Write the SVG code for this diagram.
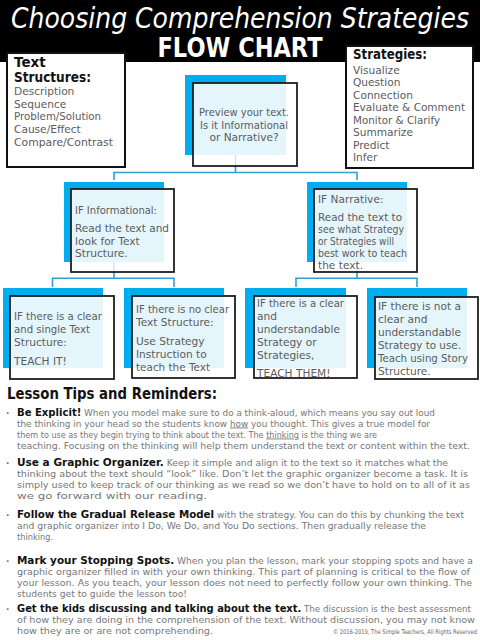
<svg xmlns="http://www.w3.org/2000/svg" width="480" height="640" viewBox="0 0 480 640">
<style>
.blue{fill:#00aeef}
.lb{fill:#e4f5fc}
.bx{fill:none;stroke:#1e1e1e;stroke-width:1.8}
.t{font-family:"DejaVu Sans","Liberation Sans",sans-serif;font-size:10.6px;fill:#5c5c5c}
.h{font-family:"DejaVu Sans","Liberation Sans",sans-serif;font-weight:700;font-size:13.5px;fill:#111}
.p{font-family:"DejaVu Sans","Liberation Sans",sans-serif;font-size:8.8px;fill:#777}
.pb{font-weight:700;font-size:10px;fill:#111}
.con{fill:none;stroke:#2fa0d6;stroke-width:1.6}
.faint{fill:none;stroke:#bfe4f6;stroke-width:1.2}
</style>
<rect width="480" height="640" fill="#fff"/>
<g id="header">
<rect x="0" y="0" width="480" height="62" fill="#000"/>
<text x="240" y="28" text-anchor="middle" textLength="458" lengthAdjust="spacingAndGlyphs" font-family="DejaVu Sans,sans-serif" font-style="italic" font-size="28" fill="#fff">Choosing Comprehension Strategies</text>
<text x="240" y="57" text-anchor="middle" textLength="165" lengthAdjust="spacingAndGlyphs" font-family="DejaVu Sans,sans-serif" font-weight="700" font-size="26" fill="#fff">FLOW CHART</text>
</g>
<g id="text-structures">
<rect x="7" y="53" width="118" height="114" fill="#fff" stroke="#111" stroke-width="2"/>
<text class="h" x="14" y="67">Text</text>
<text class="h" x="14" y="82" textLength="77" lengthAdjust="spacingAndGlyphs">Structures:</text>
<text class="t" x="14" y="95">Description</text>
<text class="t" x="14" y="107.7">Sequence</text>
<text class="t" x="14" y="120.4" textLength="87" lengthAdjust="spacingAndGlyphs">Problem/Solution</text>
<text class="t" x="14" y="133">Cause/Effect</text>
<text class="t" x="14" y="145.8" textLength="99" lengthAdjust="spacingAndGlyphs">Compare/Contrast</text>
</g>
<g id="strategies">
<rect x="346" y="46" width="127" height="122" fill="#fff" stroke="#111" stroke-width="2"/>
<text class="h" x="353" y="59" textLength="74" lengthAdjust="spacingAndGlyphs">Strategies:</text>
<text class="t" x="353" y="73.5">Visualize</text>
<text class="t" x="353" y="86">Question</text>
<text class="t" x="353" y="98.5">Connection</text>
<text class="t" x="353" y="111" textLength="112" lengthAdjust="spacingAndGlyphs">Evaluate &amp; Comment</text>
<text class="t" x="353" y="123.5" textLength="87" lengthAdjust="spacingAndGlyphs">Monitor &amp; Clarify</text>
<text class="t" x="353" y="136">Summarize</text>
<text class="t" x="353" y="148.5">Predict</text>
<text class="t" x="353" y="161">Infer</text>
</g>
<g id="connectors">
<path class="faint" d="M235.5 155V166 M114 262V272 M357 262V272"/>
<path class="con" d="M235.5 166V172.5 M114 180V172.5H357V180"/>
<path class="con" d="M114 272V278.3 M52.5 287V278.3H174V287"/>
<path class="con" d="M357 272V278.3 M296 287V278.3H417V287"/>
</g>
<g id="preview">
<rect class="blue" x="185" y="75" width="101" height="80"/>
<rect class="lb" x="193" y="83" width="93" height="72"/>
<rect class="bx" x="193" y="83" width="104" height="83"/>
<text class="t" x="244" y="115.5" text-anchor="middle" textLength="90" lengthAdjust="spacingAndGlyphs">Preview your text.</text>
<text class="t" x="244" y="128.5" text-anchor="middle" textLength="88" lengthAdjust="spacingAndGlyphs">Is it Informational</text>
<text class="t" x="244" y="141" text-anchor="middle">or Narrative?</text>
</g>
<g id="informational">
<rect class="blue" x="64" y="182" width="100" height="80"/>
<rect class="lb" x="71" y="189" width="93" height="73"/>
<rect class="bx" x="71" y="189" width="103" height="83"/>
<text class="t" x="75" y="214" textLength="82" lengthAdjust="spacingAndGlyphs">IF Informational:</text>
<text class="t" x="75" y="231.5" textLength="94" lengthAdjust="spacingAndGlyphs">Read the text and</text>
<text class="t" x="75" y="244.5">look for Text</text>
<text class="t" x="75" y="257">Structure.</text>
</g>
<g id="narrative">
<rect class="blue" x="307" y="182" width="100" height="80"/>
<rect class="lb" x="314" y="189" width="93" height="73"/>
<rect class="bx" x="314" y="189" width="103" height="83"/>
<text class="t" x="318" y="203">IF Narrative:</text>
<text class="t" x="318" y="220.5" textLength="84" lengthAdjust="spacingAndGlyphs">Read the text to</text>
<text class="t" x="318" y="232.5" textLength="86" lengthAdjust="spacingAndGlyphs">see what Strategy</text>
<text class="t" x="318" y="244.5" textLength="76" lengthAdjust="spacingAndGlyphs">or Strategies will</text>
<text class="t" x="318" y="256.5" textLength="89" lengthAdjust="spacingAndGlyphs">best work to teach</text>
<text class="t" x="318" y="268.5">the text.</text>
</g>
<g id="clear-structure">
<rect class="blue" x="3" y="288" width="100" height="80"/>
<rect class="lb" x="10" y="296" width="93" height="72"/>
<rect class="bx" x="10" y="296" width="104" height="83"/>
<text class="t" x="14" y="320" textLength="88" lengthAdjust="spacingAndGlyphs">IF there is a clear</text>
<text class="t" x="14" y="333" textLength="76" lengthAdjust="spacingAndGlyphs">and single Text</text>
<text class="t" x="14" y="346">Structure:</text>
<text class="t" x="14" y="364.5">TEACH IT!</text>
</g>
<g id="no-clear-structure">
<rect class="blue" x="124" y="288" width="100" height="80"/>
<rect class="lb" x="132" y="296" width="92" height="72"/>
<rect class="bx" x="132" y="296" width="103" height="82"/>
<text class="t" x="136" y="313" textLength="93" lengthAdjust="spacingAndGlyphs">IF there is no clear</text>
<text class="t" x="136" y="326">Text Structure:</text>
<text class="t" x="136" y="345">Use Strategy</text>
<text class="t" x="136" y="358">Instruction to</text>
<text class="t" x="136" y="370.5" textLength="74" lengthAdjust="spacingAndGlyphs">teach the Text</text>
</g>
<g id="clear-strategy">
<rect class="blue" x="245" y="288" width="101" height="80"/>
<rect class="lb" x="254" y="296" width="92" height="72"/>
<rect class="bx" x="254" y="296" width="103" height="82"/>
<text class="t" x="257" y="306.5" textLength="87" lengthAdjust="spacingAndGlyphs">IF there is a clear</text>
<text class="t" x="257" y="319.5">and</text>
<text class="t" x="257" y="333" textLength="83" lengthAdjust="spacingAndGlyphs">understandable</text>
<text class="t" x="257" y="346">Strategy or</text>
<text class="t" x="257" y="359">Strategies,</text>
<text class="t" x="257" y="377">TEACH THEM!</text>
</g>
<g id="no-clear-strategy">
<rect class="blue" x="367" y="288" width="100" height="80"/>
<rect class="lb" x="375" y="297" width="92" height="71"/>
<rect class="bx" x="375" y="297" width="103" height="82"/>
<text class="t" x="378" y="309.5">IF there is not a</text>
<text class="t" x="378" y="323">clear and</text>
<text class="t" x="378" y="335.5" textLength="83" lengthAdjust="spacingAndGlyphs">understandable</text>
<text class="t" x="378" y="349" textLength="83" lengthAdjust="spacingAndGlyphs">Strategy to use.</text>
<text class="t" x="378" y="362" textLength="90" lengthAdjust="spacingAndGlyphs">Teach using Story</text>
<text class="t" x="378" y="374.5">Structure.</text>
</g>
<g id="lesson-tips">
<text x="7" y="399" textLength="210" lengthAdjust="spacingAndGlyphs" font-family="DejaVu Sans,sans-serif" font-weight="700" font-size="16" fill="#111">Lesson Tips and Reminders:</text>
<g class="p">
<text x="6" y="415.5" font-weight="700" fill="#666">·</text>
<text x="17" y="415.5" textLength="418" lengthAdjust="spacingAndGlyphs"><tspan class="pb">Be Explicit!</tspan>  When you model make sure to do a think-aloud, which means you say out loud</text>
<text x="17" y="426.5" textLength="413" lengthAdjust="spacingAndGlyphs">the thinking in your head so the students know <tspan text-decoration="underline">how</tspan> you thought.  This gives a true model for</text>
<text x="17" y="437.5" textLength="360" lengthAdjust="spacingAndGlyphs">them to use as they begin trying to think about the text. The <tspan text-decoration="underline">thinking</tspan> is the thing we are</text>
<text x="17" y="448.5" textLength="453" lengthAdjust="spacingAndGlyphs">teaching. Focusing on the thinking will help them understand the text or content within the text.</text>

<text x="6" y="465.5" font-weight="700" fill="#666">·</text>
<text x="17" y="465.5" textLength="431" lengthAdjust="spacingAndGlyphs"><tspan class="pb">Use a Graphic Organizer.</tspan>  Keep it simple and align it to the text so it matches what the</text>
<text x="17" y="476.5" textLength="451" lengthAdjust="spacingAndGlyphs">thinking about the text should “look” like.  Don’t let the graphic organizer become a task. It is</text>
<text x="17" y="487.5" textLength="453" lengthAdjust="spacingAndGlyphs">simply used to keep track of our thinking as we read so we don’t have to hold on to all of it as</text>
<text x="17" y="498.5" textLength="190" lengthAdjust="spacingAndGlyphs">we go forward with our reading.</text>

<text x="6" y="517.5" font-weight="700" fill="#666">·</text>
<text x="17" y="517.5" textLength="447" lengthAdjust="spacingAndGlyphs"><tspan class="pb">Follow the Gradual Release Model</tspan> with the strategy.  You can do this by chunking the text</text>
<text x="17" y="528.5" textLength="409" lengthAdjust="spacingAndGlyphs">and graphic organizer into I Do, We Do, and You Do sections. Then gradually release the</text>
<text x="17" y="539.5" textLength="36" lengthAdjust="spacingAndGlyphs">thinking.</text>

<text x="6" y="563.5" font-weight="700" fill="#666">·</text>
<text x="17" y="563.5" textLength="456" lengthAdjust="spacingAndGlyphs"><tspan class="pb">Mark your Stopping Spots.</tspan> When you plan the lesson, mark your stopping spots and have a</text>
<text x="17" y="574.5" textLength="453" lengthAdjust="spacingAndGlyphs">graphic organizer filled in with your own thinking.  This part of planning is critical to the flow of</text>
<text x="17" y="585.5" textLength="455" lengthAdjust="spacingAndGlyphs">your lesson. As you teach, your lesson does not need to perfectly follow your own thinking.  The</text>
<text x="17" y="596.5" textLength="170" lengthAdjust="spacingAndGlyphs">students get to guide the lesson too!</text>

<text x="6" y="611.5" font-weight="700" fill="#666">·</text>
<text x="17" y="611.5" textLength="454" lengthAdjust="spacingAndGlyphs"><tspan class="pb">Get the kids discussing and talking about the text.</tspan>  The discussion is the best assessment</text>
<text x="17" y="622.5" textLength="458" lengthAdjust="spacingAndGlyphs">of how they are doing in the comprehension of the text.  Without discussion, you may not know</text>
<text x="17" y="633.5" textLength="196" lengthAdjust="spacingAndGlyphs">how they are or are not comprehending.</text>
</g>
<text x="477" y="633.5" text-anchor="end" textLength="144" lengthAdjust="spacingAndGlyphs" font-family="DejaVu Sans,sans-serif" font-size="6.4" fill="#666">© 2016-2019, The Simple Teachers, All Rights Reserved</text>
</g>
</svg>
